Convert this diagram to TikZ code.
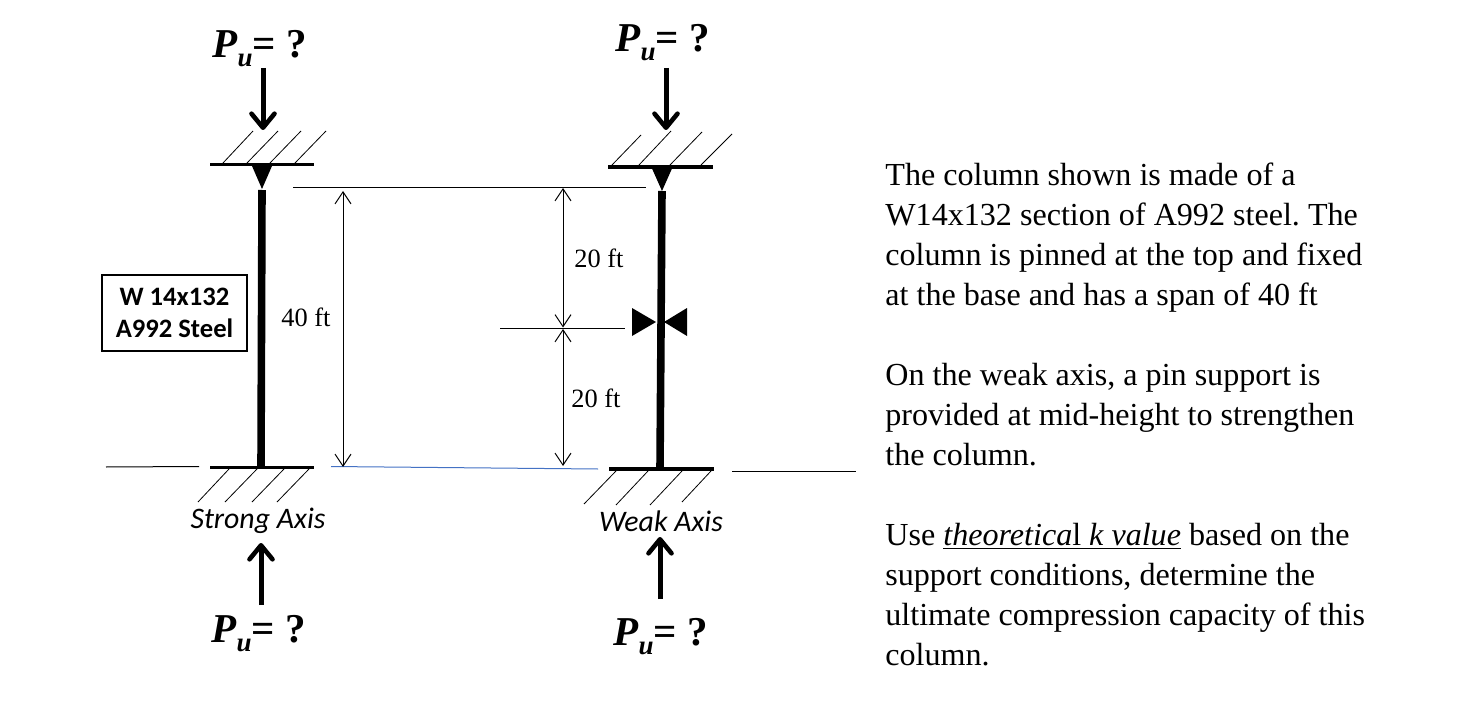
\documentclass[tikz,border=0pt]{standalone}
\usepackage{fontspec}
\setmainfont{Liberation Serif}
\newfontfamily\carlito{Carlito}
\usepackage{tikz}
\usetikzlibrary{calc,arrows.meta}
\newcommand{\Pulabel}{\fontsize{20.5}{20}\selectfont\textbf{\textit{P}\raisebox{-4.5pt}{\fontsize{13.5}{13.5}\selectfont\textit{u}}= ?}}
\tikzset{
	hatchline/.style={line width=.4pt},
	plate/.style={line width=1.8pt},
	colbar/.style={line width=3.8pt},
	loadarrow/.style={line width=2.5pt,-{Straight Barb[length=7pt,width=11.5pt,line width=2.3pt,round]}},
	dimline/.style={line width=.5pt},
	dimarrow/.style={line width=.5pt,{Straight Barb[length=6pt,width=8pt]}-{Straight Barb[length=6pt,width=8pt]}},
	pulabel/.style={anchor=base west,inner sep=0pt},
	dimlabel/.style={anchor=base,inner sep=0pt,font=\fontsize{13.2}{13}\selectfont},
	axislabel/.style={anchor=base,inner sep=0pt,font=\carlito\itshape\fontsize{14.9}{15}\selectfont},
}
\begin{document}
\begin{tikzpicture}[x=.5pt,y=-.5pt]
	\useasboundingbox (0,0) rectangle (1468,722);

	%strong axis column
	\draw[plate] (210,164.5) coordinate (p1) -- (314,164.5) coordinate (p2);
	\draw[plate] (210,467.5) coordinate (p3) -- (314,467.5) coordinate (p4);
	\fill (252,166) -- (272,166) -- (262,189) -- cycle;
	\draw[colbar] (262,190) coordinate (c1) -- (261,467) coordinate (c2);
	\foreach \xa/\xb in {223/253,247/278,270/301,295/326}{
		\draw[hatchline] (\xa,163) -- (\xb,131);
	}
	\foreach \xa/\xb in {229/198,257/225,284/252,309/277}{
		\draw[hatchline] (\xa,469) -- (\xb,502);
	}

	%weak axis column
	\draw[plate] (608,167) coordinate (p5) -- (713,167) coordinate (p6);
	\draw[plate] (609,469) coordinate (p7) -- (714,469) coordinate (p8);
	\fill (652,168.5) -- (672,168.5) -- (662,191) -- cycle;
	\draw[colbar] (662,191) coordinate (c3) -- (660,469) coordinate (c4);
	\foreach \xa/\xb/\ya in {612/641/135,639/671/131,670/702/132,701/732/134}{
		\draw[hatchline] (\xa,165) -- (\xb,\ya);
	}
	\foreach \xa/\xb/\ya in {616/584/504,648/616/505,682/650/505,711/682/502}{
		\draw[hatchline] (\xa,471) -- (\xb,\ya);
	}

	%pin at mid height
	\fill (632,308) -- (656,322) -- (632,336) -- cycle;
	\fill (687,308) -- (664,322) -- (687,336) -- cycle;

	%loads
	\coordinate (l1) at (263,68);
	\coordinate (l2) at (263,130);
	\coordinate (l3) at (261,605);
	\coordinate (l4) at (261,543);
	\coordinate (l5) at (666,68);
	\coordinate (l6) at (666,130);
	\coordinate (l7) at (660,599);
	\coordinate (l8) at (660,537);
	\foreach \a/\b in {l1/l2,l3/l4,l5/l6,l7/l8}{
		\draw[loadarrow] (\a) -- (\b);
	}
	\node[pulabel] (pu1) at (212,58) {\Pulabel};
	\node[pulabel] (pu2) at (211,642) {\Pulabel};
	\node[pulabel] (pu3) at (615,52) {\Pulabel};
	\node[pulabel] (pu4) at (613,645) {\Pulabel};

	%extension lines
	\coordinate (e1) at (293,187.5);
	\coordinate (e2) at (646,187.5);
	\coordinate (e3) at (500,328);
	\coordinate (e4) at (625,328);
	\coordinate (e5) at (106,467);
	\coordinate (e6) at (199,466.5);
	\coordinate (e7) at (331,466.5);
	\coordinate (e8) at (598,469);
	\coordinate (e9) at (732,471);
	\coordinate (e10) at (856,471);
	\draw[dimline] (e1) -- (e2);
	\draw[dimline] (e3) -- (e4);
	\draw[dimline] (e5) -- (e6);
	\draw[dimline,color={rgb,255:red,68;green,114;blue,196}] (e7) -- (e8);
	\draw[dimline] (e9) -- (e10);

	%dimensions
	\coordinate (d1) at (343,191);
	\coordinate (d2) at (343,467);
	\coordinate (d3) at (563,188);
	\coordinate (d4) at (563,327.5);
	\coordinate (d5) at (563,329);
	\coordinate (d6) at (563,466);
	\draw[dimarrow] (d1) -- (d2);
	\draw[dimarrow] (d3) -- (d4);
	\draw[dimarrow] (d5) -- (d6);
	\node[dimlabel] (dim40) at (306,326) {40 ft};
	\node[dimlabel] (dim20a) at (599,267) {20 ft};
	\node[dimlabel] (dim20b) at (596,407) {20 ft};

	%section box
	\node[draw,line width=.65pt,minimum width=72.5pt,minimum height=38pt,inner sep=0pt,align=center,font=\carlito\bfseries\fontsize{13.3}{16}\selectfont] (section) at (174.5,313) {W 14x132\\A992 Steel};

	\node[axislabel] (strong) at (258,528) {Strong Axis};
	\node[axislabel] (weak) at (661,531) {Weak Axis};

	%problem text
	\node[anchor=north west,inner sep=0pt,align=left,font=\frenchspacing\fontsize{16.05}{20}\selectfont] (problem) at (885,162) {The column shown is made of a\\
		W14x132 section of A992 steel. The\\
		column is pinned at the top and fixed\\
		at the base and has a span of 40 ft\\[20pt]
		On the weak axis, a pin support is\\
		provided at mid-height to strengthen\\
		the column.\\[20pt]
		Use \underline{\textit{theoretica}l \textit{k value}} based on the\\
		support conditions, determine the\\
		ultimate compression capacity of this\\
		column.};
\end{tikzpicture}
\end{document}
